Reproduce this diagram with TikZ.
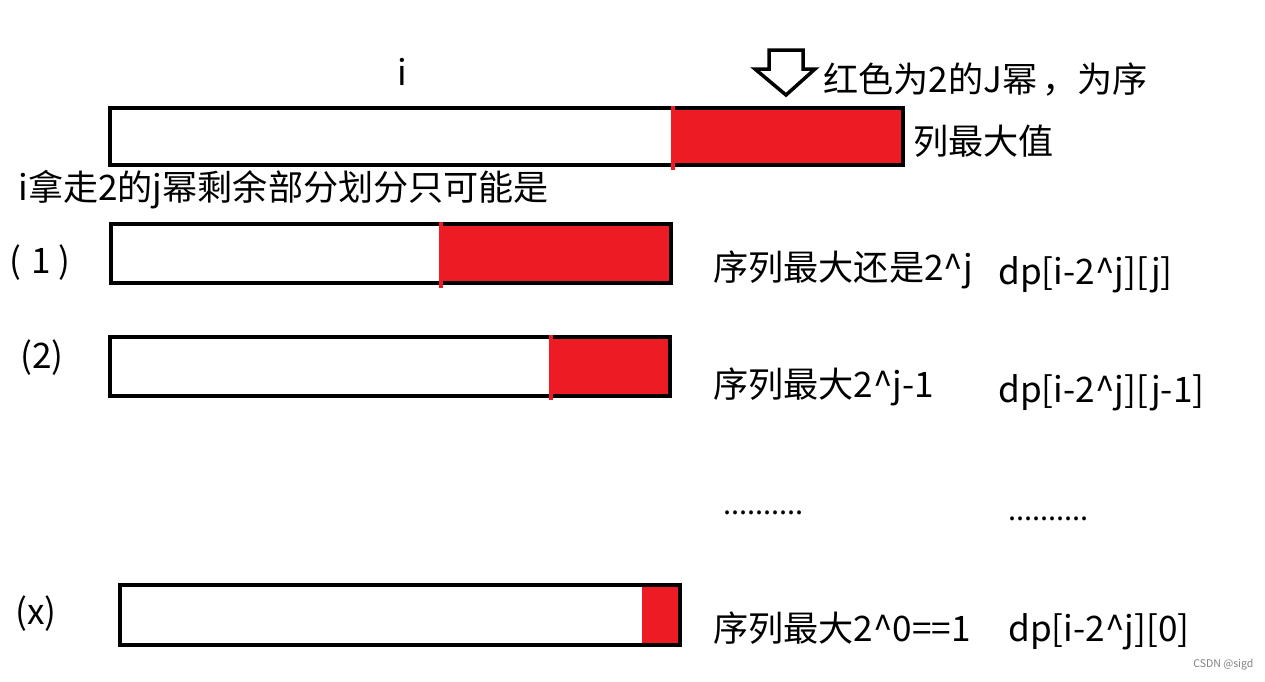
\documentclass[tikz,border=0pt]{standalone}
\usepackage{fontspec}
\newfontfamily\cjk{Noto Sans CJK SC}
\usetikzlibrary{positioning}
\definecolor{barred}{RGB}{237,28,36}
\tikzset{
    bar/.style={draw=black, line width=2.4pt},
    cut/.style={draw=barred, line width=1.8pt},
    lbl/.style={font=\cjk\fontsize{20}{24}\selectfont, inner sep=0pt, anchor=west},
    dotrow/.style={font=\cjk\fontsize{16.5}{20}\selectfont, inner sep=0pt, anchor=west},
    wmark/.style={font=\cjk\fontsize{6}{7}\selectfont, text=gray, inner sep=0pt, anchor=west}
}

\begin{document}
\begin{tikzpicture}[x=0.02cm, y=-0.02cm]
        \useasboundingbox (0,0) rectangle (1265,681);
        % whole sequence
        \fill[barred] (673,108) rectangle (903,165);
        \draw[bar] (110,108) rectangle (903,165);
        \draw[cut] (673,106) -- (673,170);
        \draw[line width=2pt, fill=white] (769,50) -- (803,50) -- (803,69) -- (815,69)
            -- (786,95) -- (755,69) -- (769,69) -- cycle;
        \node[lbl] (idx) at (397,72) {i};
        \node[lbl] (note1) at (823,80) {红色为2的J幂\kern0.1cm，为序};
        \node[lbl] (note2) at (913,141) {列最大值};
        \node[lbl] (title) at (18,190) {i拿走2的j幂剩余部分划分只可能是};

        % case 1
        \fill[barred] (441,224) rectangle (671,283);
        \draw[bar] (111,224) rectangle (671,283);
        \draw[cut] (441,222) -- (441,288);
        \node[lbl] (c1) at (9,263) {(\kern0.2cm1\kern0.16cm)};
        \node[lbl] (r1) at (713,270) {序列最大还是2\textasciicircum j};
        \node[lbl] (d1) at (998,275) {dp[i-2\textasciicircum j][j]};

        % case 2
        \fill[barred] (551,337) rectangle (670,396);
        \draw[bar] (110,337) rectangle (670,396);
        \draw[cut] (551,335) -- (551,400);
        \node[lbl] (c2) at (20,358) {(2)};
        \node[lbl] (r2) at (713,387) {序列最大2\textasciicircum j-1};
        \node[lbl] (d2) at (998,393) {dp[i-2\textasciicircum j][j-1]};

        \node[dotrow] (dotsa) at (723,513) {..........};
        \node[dotrow] (dotsb) at (1008,519) {..........};

        % case x
        \fill[barred] (642,585) rectangle (680,645);
        \draw[bar] (120,585) rectangle (680,645);
        \node[lbl] (cx) at (15,614) {(x)};
        \node[lbl] (rx) at (713,628) {序列最大2\textasciicircum 0==1};
        \node[lbl] (dx) at (1008,632) {dp[i-2\textasciicircum j][0]};

        \node[wmark] (wm) at (1193,665) {CSDN @sigd};
    \end{tikzpicture}
\end{document}
